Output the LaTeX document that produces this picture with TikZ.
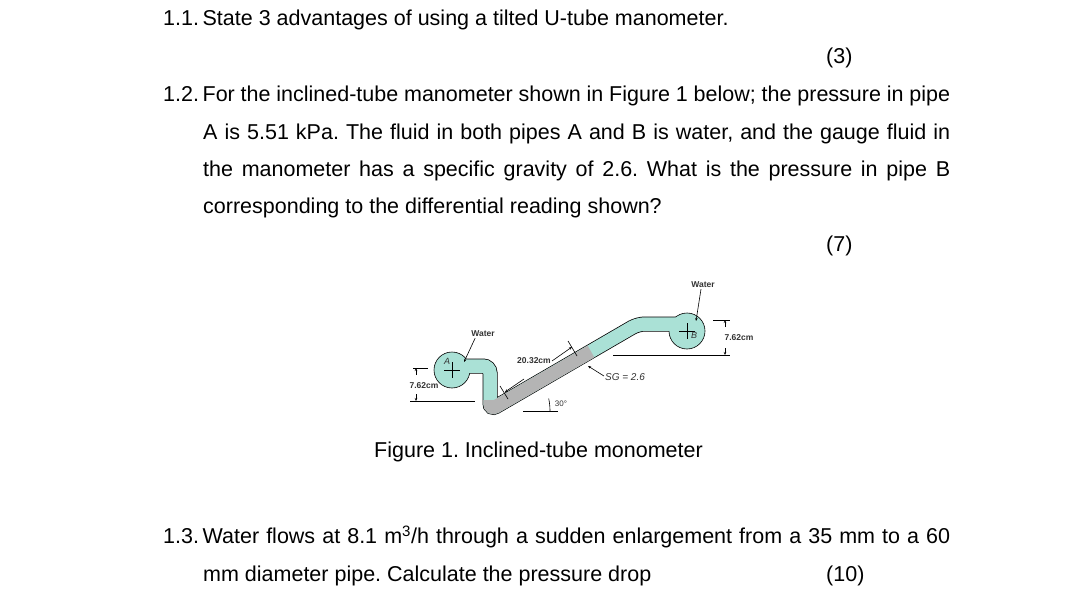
\documentclass[tikz,border=0pt]{standalone}
\usepackage{fontspec}
\setmainfont{Liberation Sans}
\usetikzlibrary{arrows.meta}
\frenchspacing
\begin{document}
\begin{tikzpicture}[x=1pt,y=-1pt,
  txt/.style={anchor=west,inner sep=0pt,font=\fontsize{21.5}{24}\selectfont},
  lbl/.style={inner sep=0pt,font=\fontsize{8.5}{9}\selectfont\bfseries,text=black!80},
  thin/.style={line width=0.6pt},
  dim/.style={line width=0.6pt,-{Stealth[length=3pt,width=2.5pt]}}]
\useasboundingbox (0,0) rectangle (1080,602);
\definecolor{water}{RGB}{170,225,214}
\definecolor{gauge}{RGB}{180,180,180}
% text
\node[txt] (t11) at (163,20) {1.1.\,State 3 advantages of using a tilted U-tube manometer.};
\node[txt] (m3) at (826,58) {(3)};
\node[txt] (t12a) at (163,96) {\makebox[787pt][s]{1.2.\,For the inclined-tube manometer shown in Figure 1 below; the pressure in pipe}};
\node[txt] (t12b) at (203,134) {\makebox[747pt][s]{A is 5.51 kPa. The fluid in both pipes A and B is water, and the gauge fluid in}};
\node[txt] (t12c) at (203,171) {\makebox[747pt][s]{the manometer has a specific gravity of 2.6. What is the pressure in pipe B}};
\node[txt] (t12d) at (203,208) {corresponding to the differential reading shown?};
\node[txt] (m7) at (826,246) {(7)};
\node[txt] (cap) at (374,452) {Figure 1. Inclined-tube monometer};
\node[txt] (t13a) at (163,537) {\makebox[787pt][s]{1.3.\,Water flows at 8.1 m\textsuperscript{3}/h through a sudden enlargement from a 35 mm to a 60}};
\node[txt] (t13b) at (203,576) {mm diameter pipe. Calculate the pressure drop};
\node[txt] (m10) at (826,576) {(10)};
% manometer
\coordinate (A) at (452,370);
\coordinate (B) at (687,331);
\draw[line width=15pt,rounded corners=7pt] (452,366) -- (490,366) -- (490,410) -- (638,324) -- (687,324);
\draw[thin,fill=water] (A) circle (18);
\draw[thin,fill=water] (B) circle (18);
\draw[line width=13.5pt,water,rounded corners=7pt] (452,366) -- (490,366) -- (490,410) -- (638,324) -- (687,324);
\draw[line width=13.5pt,gauge,rounded corners=7pt] (490,400) -- (490,410) -- (591,351.5);
\draw[thin] (444,370) -- (460,370) (452,362) -- (452,378);
\draw[thin] (679,331) -- (695,331) (687,323) -- (687,339);
\node[lbl,font=\fontsize{9}{9}\selectfont\itshape] (la) at (447,361) {A};
\node[lbl,font=\fontsize{9}{9}\selectfont\itshape] (lb) at (694,335) {B};
% water labels
\node[lbl] (wa) at (483,334) {Water};
\node[lbl] (wb) at (703,285) {Water};
\coordinate (wat) at (464,362);
\coordinate (wbt) at (696,321);
\draw[dim] (wa.south west) ++(4,1) -- (wat);
\draw[dim] (wb.south) ++(-2,1) -- (wbt);
% left 7.62
\draw[thin] (410,401) -- (475,401);
\draw[thin] (413,368) -- (428,368);
\coordinate (lu) at (416,368); \coordinate (ld) at (416,401);
\draw[dim] (416,375) -- (lu);
\draw[dim] (416,394) -- (ld);
\node[lbl] (l762) at (424,386) {7.62cm};
% right 7.62
\draw[thin] (713,320) -- (730,320);
\draw[thin] (613,355) -- (730,355);
\coordinate (ru) at (725,320); \coordinate (rd) at (725,355);
\draw[dim] (725,327) -- (ru);
\draw[dim] (725,348) -- (rd);
\node[lbl] (r762) at (739,338) {7.62cm};
% 30 deg
\draw[thin] (523,411) -- (558,411);
\draw[thin] (550,411) arc[start angle=0,end angle=-12,radius=60];
\node[lbl,font=\fontsize{8}{9}\selectfont\mdseries] (a30) at (561,404) {30\textdegree};
% 20.32 dimension
\draw[thin] (500,386) -- (508,399);
\draw[thin] (568,341) -- (577,356);
\coordinate (d1) at (505,392); \coordinate (d2) at (572,347);
\node[lbl,fill=white,inner sep=1pt] (d2032) at (534,361) {20.32cm};
\draw[dim] (524,379) -- (d1);
\draw[dim] (552,361) -- (d2);
% SG
\node[lbl,font=\fontsize{10}{10}\selectfont\itshape\mdseries] (sg) at (625,377) {SG = 2.6};
\coordinate (sgt) at (588,366);
\draw[dim] (sg.west) ++(-1,-1) -- (sgt);
\end{tikzpicture}
\end{document}
